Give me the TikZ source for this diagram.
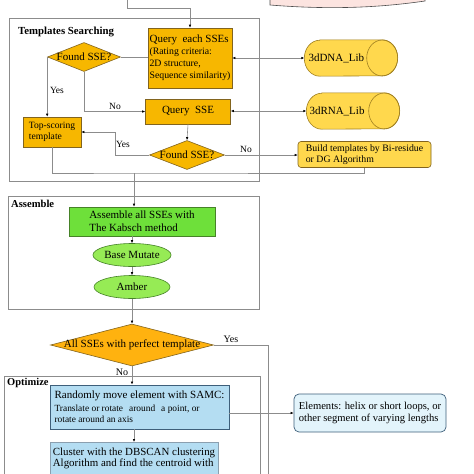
\documentclass[tikz,border=0pt]{standalone}
\usepackage{fontspec}
\setmainfont{Liberation Serif}
\usetikzlibrary{shapes.geometric,arrows.meta}
\definecolor{orng}{RGB}{247,183,0}
\definecolor{orngd}{RGB}{255,178,15}
\definecolor{obrd}{RGB}{130,100,30}
\definecolor{grn}{RGB}{110,224,58}
\definecolor{grnl}{RGB}{150,235,85}
\definecolor{gbrd}{RGB}{70,130,40}
\definecolor{cyl}{RGB}{255,216,77}
\definecolor{cbrd}{RGB}{160,128,32}
\definecolor{blu}{RGB}{180,221,242}
\definecolor{bbrd}{RGB}{62,95,122}
\definecolor{elf}{RGB}{227,244,251}
\definecolor{pnk}{RGB}{252,228,224}
\definecolor{ln}{RGB}{140,140,140}
\newcommand{\fs}[1]{\fontsize{#1}{#1}\selectfont}
\tikzset{
  line/.style={draw=ln, line width=0.6pt},
  arr/.style={line, -{Latex[length=3pt,width=2.6pt,black]}},
  dbl/.style={line, {Latex[length=3pt,width=2.6pt,black]}-{Latex[length=3pt,width=2.6pt,black]}},
  frame/.style={draw=ln, line width=0.9pt},
  obox/.style={draw=obrd, fill=orng, line width=0.6pt, inner sep=0pt},
  odiam/.style={diamond, draw=obrd, fill=orng, line width=0.6pt, inner sep=0pt},
  gbox/.style={draw=gbrd, fill=grn, line width=0.6pt, inner sep=0pt},
  gell/.style={ellipse, draw=gbrd, fill=grnl, line width=0.6pt, inner sep=0pt},
  cylslot/.style={rectangle, inner sep=0pt, minimum width=93, minimum height=36},
  cylpaint/.style={draw=cbrd, fill=cyl, line width=0.6pt},
  bbox/.style={draw=bbrd, fill=blu, line width=0.8pt, inner sep=0pt},
  lbl/.style={inner sep=0pt},
}
\newcommand{\drawcyl}[1]{%
  \path[cylpaint] ([xshift=15.5pt]#1.north west) -- ([xshift=-15.5pt]#1.north east)
     arc[start angle=90,end angle=-90,x radius=15.5pt,y radius=18pt]
     -- ([xshift=15.5pt]#1.south west)
     arc[start angle=270,end angle=90,x radius=15.5pt,y radius=18pt] -- cycle;
  \draw[draw=cbrd, line width=0.6pt] ([xshift=-15.5pt]#1.east) ellipse[x radius=15.5pt, y radius=18pt];}
\begin{document}
\begin{tikzpicture}[x=1pt,y=-1pt]
\useasboundingbox (0,0) rectangle (474,474);
\fill[white] (0,0) rectangle (474,474);
% pink shape at top
\draw[draw=black!70, fill=pnk, line width=0.6pt] (270,-3) -- (270,5) .. controls (320,9) and (370,9) .. (425,1) -- (425,-3);
% frames
\draw[frame] (9,18) rectangle (259,181);
\draw[frame] (8,196) rectangle (259,309);
\draw[frame] (4,376) rectangle (260,480);
\node[lbl, anchor=west, font=\fs{10.8}\bfseries] (tslab) at (18,32) {Templates Searching};
\node[lbl, anchor=west, font=\fs{10.6}\bfseries] (aslab) at (11,204) {Assemble};
\node[lbl, anchor=west, font=\fs{10.5}\bfseries] (oplab) at (7,383) {Optimize};
% templates searching nodes
\node[obox, minimum width=84, minimum height=60, align=left, font=\fontsize{9.8}{12}\selectfont] (qe) at (190,58)
  {{\fs{11}Query\ \ each SSEs}\\(Rating criteria:\\ 2D structure,\\ Sequence similarity)};
\node[odiam, minimum width=73, minimum height=29, label={[font=\fs{11}]center:Found SSE?}] (d1) at (84,57) {};
\node[obox, minimum width=85, minimum height=25, font=\fs{11}] (qs) at (188,111.5) {Query\ \ SSE};
\node[odiam, minimum width=75, minimum height=29, label={[font=\fs{11}]center:Found SSE?}] (d2) at (187,155) {};
\node[obox, minimum width=58, minimum height=30, align=left, font=\fontsize{9.6}{11.5}\selectfont] (ts) at (52,132) {Top-scoring\\template};
\node[cylslot] (dna) at (351,58) {};
\drawcyl{dna}
\node[lbl, anchor=west, font=\fs{11}] (dnat) at ([xshift=4]dna.west) {3dDNA\_Lib};
\node[cylslot] (rna) at (353,111) {};
\drawcyl{rna}
\node[lbl, anchor=west, font=\fs{11}] (rnat) at ([xshift=3]rna.west) {3dRNA\_Lib};
\node[draw=obrd, fill=cyl, line width=0.6pt, rounded corners=3pt, minimum width=133, minimum height=26, inner sep=0pt, align=left, font=\fontsize{9.8}{11.5}\selectfont] (bt) at (364.5,154.5) {Build templates by Bi-residue\\or DG Algorithm};
% assemble nodes
\node[gbox, minimum width=146, minimum height=29, align=left, font=\fontsize{11}{13}\selectfont] (am) at (142,221.5) {Assemble all SSEs with\\The Kabsch method};
\node[gell, minimum width=76, minimum height=23, font=\fs{11}] (bm) at (132,255) {Base Mutate};
\node[gell, minimum width=76, minimum height=23, font=\fs{11}] (amb) at (132,287) {Amber};
\node[odiam, fill=orngd, minimum width=163, minimum height=42, label={[font=\fs{11}]center:All SSEs with perfect template}] (d3) at (132,345) {};
% optimize nodes
\node[bbox, minimum width=179, minimum height=44, align=left, font=\fontsize{9.4}{11.5}\selectfont] (rm) at (139.5,407)
  {{\fs{11}Randomly move element with SAMC:}\\[1pt]Translate or rotate\hspace{6pt}around\hspace{6pt}a point, or\\ rotate around an axis};
\node[draw=bbrd, fill=elf, line width=0.7pt, rounded corners=5pt, minimum width=152, minimum height=38, inner sep=0pt, align=left, font=\fontsize{10.6}{12}\selectfont] (el) at (370,413) {Elements: helix or short loops, or\\other segment of varying lengths};
\node[draw=bbrd!60, fill=blu, line width=0.7pt, minimum width=168, minimum height=50, inner sep=0pt, anchor=north, align=left, font=\fontsize{10.9}{11.5}\selectfont, text depth=20pt] (cl) at (134,442) {Cluster with the DBSCAN clustering\\Algorithm and find the centroid with};
% connectors
\coordinate (topc) at (127,-1);
\draw[arr] (topc) -- ++(0,9) -| (qe.north);
\draw[line] (d1.east) -- (d1.east -| qe.west);
\draw[arr] (d1.west) -- (d1.west |- ts.north);
\node[lbl, font=\fs{9.5}] (yes1) at (57,90) {Yes};
\draw[arr] (d1.south) |- (qs.west);
\node[lbl, font=\fs{9.5}] (no1) at (115,106) {No};
\draw[arr] (qs.south) -- (d2.north);
\draw[arr] (d2.west) -- ++(-34,0) |- (ts.east);
\node[lbl, font=\fs{9.5}] (yes2) at (123,144) {Yes};
\draw[arr] (d2.east) -- (d2.east -| bt.west);
\node[lbl, font=\fs{9.5}] (no2) at (246,149) {No};
\draw[dbl] (qe.east |- dna.west) -- (dna.west);
\draw[dbl] (qs.east |- rna.west) -- (rna.west);
\coordinate (jn) at (134,173);
\draw[line] (ts.south) |- (jn) -| (bt.south);
\draw[arr] (jn) -- (am.north -| jn);
\draw[arr] (am.south -| bm.north) -- (bm.north);
\draw[arr] (bm.south) -- (amb.north);
\draw[arr] (amb.south) -- (d3.north);
\coordinate (yend) at (268,476);
\draw[line] (d3.east) -| (yend);
\node[lbl, font=\fs{10}] (yes3) at (231,339) {Yes};
\draw[arr] (d3.south) -- (d3.south |- rm.north);
\node[lbl, font=\fs{10}] (no3) at (122,372) {No};
\draw[arr] (rm.east |- el.west) -- (el.west);
\draw[arr] (rm.south -| cl.north) -- (cl.north);
\end{tikzpicture}
\end{document}
